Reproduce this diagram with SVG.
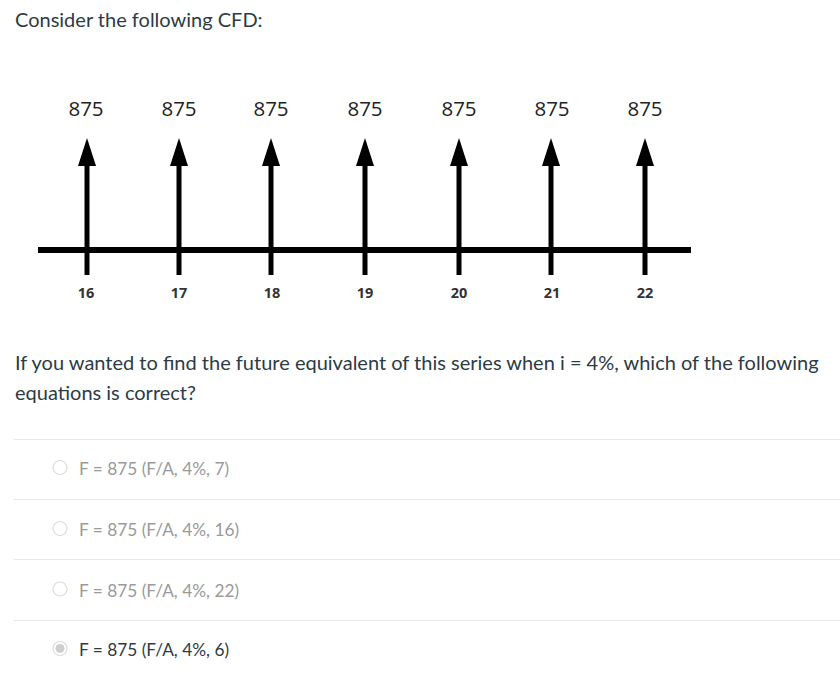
<svg xmlns="http://www.w3.org/2000/svg" width="840" height="686" viewBox="0 0 840 686">
<defs>
<style>
.t{font-family:Lato,"Open Sans",sans-serif;fill:#2d3b45}
.amt{font-family:"Open Sans","Noto Sans",sans-serif;font-size:20.5px;fill:#222;text-anchor:middle}
.tick{font-family:"Open Sans","Noto Sans",sans-serif;font-size:14.5px;font-weight:bold;fill:#333;text-anchor:middle}
.shaft{stroke:#000;stroke-width:5}
.head{fill:#000}
.sep{stroke:#e6e6e6;stroke-width:1}
.opt{font-family:Lato,"Open Sans",sans-serif;font-size:17.3px;fill:#9a9a9a}
.sel{fill:#2d3b45}
.radio{fill:#fff;stroke:#dcdcdc;stroke-width:1.2}
</style>
</defs>
<rect width="840" height="686" fill="#fff"/>
<text class="t" x="15" y="27" font-size="20">Consider the following CFD:</text>
<g id="axis"><line x1="38" y1="250" x2="691" y2="250" stroke="#000" stroke-width="6"/></g>
<g id="connectors">
<g id="a16"><line class="shaft" x1="87" y1="164" x2="87" y2="275"/><polygon class="head" points="87,138 78,166 96,166"/></g>
<g id="a17"><line class="shaft" x1="179" y1="164" x2="179" y2="275"/><polygon class="head" points="179,138 170,166 188,166"/></g>
<g id="a18"><line class="shaft" x1="271" y1="164" x2="271" y2="275"/><polygon class="head" points="271,138 262,166 280,166"/></g>
<g id="a19"><line class="shaft" x1="365" y1="164" x2="365" y2="275"/><polygon class="head" points="365,138 356,166 374,166"/></g>
<g id="a20"><line class="shaft" x1="459" y1="164" x2="459" y2="275"/><polygon class="head" points="459,138 450,166 468,166"/></g>
<g id="a21"><line class="shaft" x1="551" y1="164" x2="551" y2="275"/><polygon class="head" points="551,138 542,166 560,166"/></g>
<g id="a22"><line class="shaft" x1="645" y1="164" x2="645" y2="275"/><polygon class="head" points="645,138 636,166 654,166"/></g>
</g>
<g id="amounts">
<text class="amt" x="86" y="116">875</text>
<text class="amt" x="179" y="116">875</text>
<text class="amt" x="271" y="116">875</text>
<text class="amt" x="365" y="116">875</text>
<text class="amt" x="459" y="116">875</text>
<text class="amt" x="552" y="116">875</text>
<text class="amt" x="645" y="116">875</text>
</g>
<g id="ticks">
<text class="tick" x="86" y="298">16</text>
<text class="tick" x="179" y="298">17</text>
<text class="tick" x="272" y="298">18</text>
<text class="tick" x="365" y="298">19</text>
<text class="tick" x="459" y="298">20</text>
<text class="tick" x="552" y="298">21</text>
<text class="tick" x="645" y="298">22</text>
</g>
<text class="t" x="15" y="370" font-size="20">If you wanted to find the future equivalent of this series when i = 4%, which of the following</text>
<text class="t" x="15" y="400" font-size="20">equations is correct?</text>
<g id="seps">
<line class="sep" x1="14" y1="439.5" x2="840" y2="439.5"/>
<line class="sep" x1="14" y1="499.5" x2="840" y2="499.5"/>
<line class="sep" x1="14" y1="559.5" x2="840" y2="559.5"/>
<line class="sep" x1="14" y1="620.5" x2="840" y2="620.5"/>
</g>
<g id="opt1"><circle class="radio" cx="60" cy="467.5" r="7"/><text class="opt" x="79" y="475">F = 875 (F/A, 4%, 7)</text></g>
<g id="opt2"><circle class="radio" cx="60" cy="528.5" r="7"/><text class="opt" x="79" y="536">F = 875 (F/A, 4%, 16)</text></g>
<g id="opt3"><circle class="radio" cx="60" cy="589" r="7"/><text class="opt" x="79" y="596.5">F = 875 (F/A, 4%, 22)</text></g>
<g id="opt4"><circle class="radio" cx="60" cy="648.5" r="7"/><circle cx="60" cy="648.5" r="4.5" fill="#cfcfcf"/><text class="opt sel" x="79" y="656">F = 875 (F/A, 4%, 6)</text></g>
</svg>
